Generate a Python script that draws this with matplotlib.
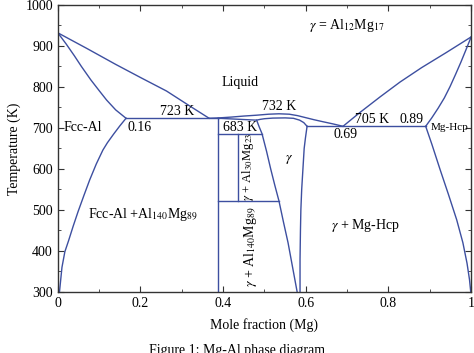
import matplotlib
matplotlib.use("Agg")
import matplotlib.pyplot as plt
from matplotlib.ticker import MultipleLocator

plt.rcParams['font.family'] = ['Liberation Serif', 'DejaVu Serif']
plt.rcParams['mathtext.fontset'] = 'stix'

# phase boundaries (mole fraction Mg, temperature K)
liq_al_x = [0.0, 0.07, 0.14, 0.2, 0.263, 0.32, 0.366]
liq_al_t = [932, 894, 855, 823, 790, 753, 723.6]
sol_al_x = [0.0, 0.02, 0.04, 0.057, 0.08, 0.1, 0.118, 0.14, 0.165]
sol_al_t = [932, 905, 876, 850, 817, 791, 768, 744, 723.6]
solv_al_x = [0.165, 0.15, 0.135, 0.12, 0.109, 0.093, 0.077, 0.063, 0.049,
             0.037, 0.026, 0.017, 0.01, 0.004]
solv_al_t = [723.6, 705, 685, 664, 646, 612, 573, 535, 496, 460, 425, 398,
             360, 300]

eut1_x = [0.165, 0.39]
eut1_t = [723.6, 723.6]

liq_mid_x = [0.366, 0.39, 0.42, 0.45, 0.48, 0.51, 0.535, 0.56, 0.58, 0.60,
             0.62, 0.642, 0.665, 0.69]
liq_mid_t = [723.6, 724.5, 726.5, 729, 731, 733.5, 734.5, 733.5, 730, 725,
             720, 715, 710, 704]
sol_mid_x = [0.388, 0.42, 0.45, 0.481, 0.49, 0.50, 0.52, 0.55, 0.57, 0.585,
             0.595, 0.603]
sol_mid_t = [723.6, 722, 720.5, 719, 721, 722.5, 724, 724.5, 723.5, 719,
             713, 704]

gam_l_x = [0.481, 0.487, 0.494, 0.505, 0.515, 0.525, 0.535, 0.546, 0.557,
           0.568, 0.579]
gam_l_t = [719, 703, 686, 643, 600, 560, 522, 470, 420, 360, 300]
gam_r_x = [0.603, 0.599, 0.596, 0.593, 0.590, 0.588, 0.587, 0.586, 0.586]
gam_r_t = [704, 675, 650, 600, 550, 500, 450, 380, 300]

b_x = [0.388, 0.388]
b_t = [723.6, 300]
e_x = [0.435, 0.435]
e_t = [686, 522]
per_x = [0.388, 0.494]
per_t = [686, 686]
low_x = [0.388, 0.535]
low_t = [522, 522]

eut2_x = [0.603, 0.89]
eut2_t = [704, 704]
liq_mg_x = [0.69, 0.73, 0.78, 0.828, 0.88, 0.94, 1.0]
liq_mg_t = [704, 737, 776, 812, 847, 884, 922]
sol_mg_x = [0.89, 0.905, 0.92, 0.935, 0.949, 0.962, 0.975, 0.988, 1.0]
sol_mg_t = [704, 725, 748, 773, 801, 830, 860, 892, 922]
solv_mg_x = [0.89, 0.905, 0.925, 0.945, 0.965, 0.98, 0.99, 0.996, 0.999]
solv_mg_t = [704, 660, 598, 538, 476, 420, 370, 330, 300]

lines = [
    (liq_al_x, liq_al_t), (sol_al_x, sol_al_t), (solv_al_x, solv_al_t),
    (eut1_x, eut1_t), (liq_mid_x, liq_mid_t), (sol_mid_x, sol_mid_t),
    (gam_l_x, gam_l_t), (gam_r_x, gam_r_t), (b_x, b_t), (e_x, e_t),
    (per_x, per_t), (low_x, low_t), (eut2_x, eut2_t),
    (liq_mg_x, liq_mg_t), (sol_mg_x, sol_mg_t), (solv_mg_x, solv_mg_t),
]

fig = plt.figure(figsize=(4.74, 3.53), dpi=100)
ax = fig.add_axes([0.122, 0.173, 0.872, 0.813])

col = '#3d4fa0'
for xs, ts in lines:
    ax.plot(xs, ts, color=col, lw=1.0, solid_joinstyle='round')

fs = 10
ax.text(0.44, 812, 'Liquid', fontsize=fs, ha='center', va='center')
ax.text(0.70, 951, r'$\gamma$ = Al$_{12}$Mg$_{17}$', fontsize=fs, ha='center', va='center')
ax.text(0.288, 739, '723 K', fontsize=fs, ha='center', va='center')
ax.text(0.168, 700, '0.16', fontsize=fs, ha='left', va='center')
ax.text(0.06, 700, 'Fcc-Al', fontsize=fs, ha='center', va='center')
ax.text(0.535, 752, '732 K', fontsize=fs, ha='center', va='center')
ax.text(0.44, 702, '683 K', fontsize=fs, ha='center', va='center')
ax.text(0.76, 720, '705 K', fontsize=fs, ha='center', va='center')
ax.text(0.857, 720, '0.89', fontsize=fs, ha='center', va='center')
ax.text(0.695, 684, '0.69', fontsize=fs, ha='center', va='center')
ax.text(0.948, 702, 'Mg-Hcp', fontsize=8, ha='center', va='center')
ax.text(0.56, 624, r'$\gamma$', fontsize=fs, ha='center', va='center')
ax.text(0.461, 605, r'$\gamma$ + Al$_{30}$Mg$_{23}$', fontsize=9, ha='center',
        va='center', rotation=90)
ax.text(0.465, 410, r'$\gamma$ + Al$_{140}$Mg$_{89}$', fontsize=fs, ha='center',
        va='center', rotation=90)
ax.text(0.207, 488, 'Fcc-Al +Al$_{140}$Mg$_{89}$', fontsize=fs, ha='center', va='center')
ax.text(0.745, 463, r'$\gamma$ + Mg-Hcp', fontsize=fs, ha='center', va='center')

ax.set_xlim(0, 1)
ax.set_ylim(300, 1000)
ax.xaxis.set_major_locator(MultipleLocator(0.2))
ax.xaxis.set_minor_locator(MultipleLocator(0.1))
ax.yaxis.set_major_locator(MultipleLocator(100))
ax.yaxis.set_minor_locator(MultipleLocator(50))
ax.set_xticks([0, 0.2, 0.4, 0.6, 0.8, 1.0])
ax.set_xticklabels(['0', '0.2', '0.4', '0.6', '0.8', '1'])
ax.tick_params(which='both', direction='in', top=True, right=True,
               labelsize=fs, color='#333333')
ax.tick_params(which='major', length=4)
ax.tick_params(which='minor', length=2.5)
for s in ax.spines.values():
    s.set_color('#333333')
    s.set_linewidth(1.0)

ax.set_xlabel('Mole fraction (Mg)', fontsize=fs, labelpad=6)
ax.set_ylabel('Temperature (K)', fontsize=fs, labelpad=3)

# caption, cut by the bottom edge as in the source image
fig.text(0.5, -0.012, 'Figure 1: Mg-Al phase diagram', fontsize=fs,
         ha='center', va='bottom')

fig.savefig('out.png', dpi=100)
